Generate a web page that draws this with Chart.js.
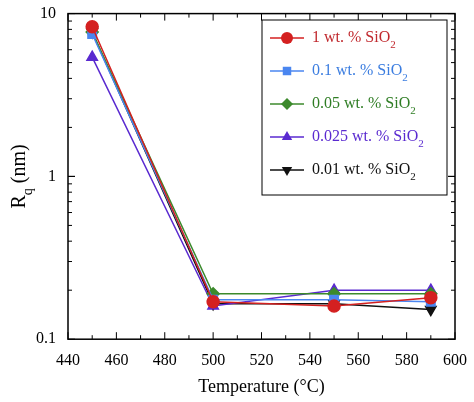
<!DOCTYPE html>
<html>
<head>
<script src="https://cdn.jsdelivr.net/npm/chart.js@4"></script>
<style>body{margin:0;background:#fff}#wrap{width:474px;height:402px}</style>
</head>
<body>
<div id="wrap"><canvas id="c"></canvas></div>
<script>
// temperatures (°C) and roughness values (nm)
const temps = [450, 500, 550, 590];
const sio2_1 = [8.3, 0.17, 0.16, 0.18];
const sio2_01 = [7.5, 0.175, 0.175, 0.17];
const sio2_005 = [7.7, 0.19, 0.19, 0.19];
const sio2_0025 = [5.4, 0.16, 0.2, 0.2];
const sio2_001 = [7.7, 0.165, 0.165, 0.152];
const xTicks = [440, 460, 480, 500, 520, 540, 560, 580, 600];
const yTicks = [0.1, 1, 10];

const series = [
  {label: '1 wt. % SiO', data: sio2_1, color: '#d42020', text: '#c0282d', point: 'circle'},
  {label: '0.1 wt. % SiO', data: sio2_01, color: '#4a86f0', text: '#3b7de0', point: 'rect'},
  {label: '0.05 wt. % SiO', data: sio2_005, color: '#3c8a2c', text: '#2f7d24', point: 'rectRot'},
  {label: '0.025 wt. % SiO', data: sio2_0025, color: '#5a2ad0', text: '#5a2ad0', point: 'triangle'},
  {label: '0.01 wt. % SiO', data: sio2_001, color: '#111111', text: '#111111', point: 'triangle', rot: 180}
];

const font = 'Liberation Serif, Times New Roman, serif';

// inward ticks on all sides, legend box and y title
const decor = {
  id: 'decor',
  afterDraw(chart) {
    const ctx = chart.ctx, a = chart.chartArea;
    const xs = chart.scales.x, ys = chart.scales.y;
    ctx.save();
    ctx.strokeStyle = '#000';
    ctx.lineWidth = 1.5;
    ctx.strokeRect(a.left, a.top, a.right - a.left, a.bottom - a.top);
    ctx.lineWidth = 1;
    ctx.beginPath();
    for (let v = 440; v <= 600; v += 10) {
      const p = xs.getPixelForValue(v), len = v % 20 === 0 ? 7 : 4;
      ctx.moveTo(p, a.bottom); ctx.lineTo(p, a.bottom - len);
      ctx.moveTo(p, a.top); ctx.lineTo(p, a.top + len);
    }
    for (let d = 0.1; d < 10; d *= 10) {
      for (let m = 1; m <= 10; m++) {
        const p = ys.getPixelForValue(d * m), len = (m === 1 || m === 10) ? 7 : 4;
        ctx.moveTo(a.left, p); ctx.lineTo(a.left + len, p);
        ctx.moveTo(a.right, p); ctx.lineTo(a.right - len, p);
      }
    }
    ctx.stroke();

    // legend
    const lx = 262, ly = 20, lw = 185, lh = 175, step = 33;
    ctx.fillStyle = '#fff';
    ctx.fillRect(lx, ly, lw, lh);
    ctx.strokeRect(lx, ly, lw, lh);
    series.forEach((s, i) => {
      const y = ly + 18 + i * step;
      ctx.strokeStyle = s.color; ctx.lineWidth = 1.5;
      ctx.beginPath(); ctx.moveTo(lx + 8, y); ctx.lineTo(lx + 42, y); ctx.stroke();
      ctx.fillStyle = s.color;
      Chart.helpers.drawPoint(ctx, {pointStyle: s.point, radius: 6, rotation: s.rot || 0}, lx + 25, y);
      ctx.fillStyle = s.text;
      ctx.font = '16px ' + font;
      ctx.textBaseline = 'middle';
      ctx.fillText(s.label, lx + 50, y);
      const w = ctx.measureText(s.label).width;
      ctx.font = '11px ' + font;
      ctx.fillText('2', lx + 50 + w, y + 7);
    });

    // y title with subscript
    ctx.fillStyle = '#000';
    ctx.translate(20, (a.top + a.bottom) / 2);
    ctx.rotate(-Math.PI / 2);
    ctx.textBaseline = 'middle';
    const t1 = 'R', t2 = 'q', t3 = ' (nm)';
    ctx.font = '20px ' + font; const w1 = ctx.measureText(t1).width;
    ctx.font = '14px ' + font; const w2 = ctx.measureText(t2).width;
    ctx.font = '20px ' + font; const w3 = ctx.measureText(t3).width;
    let x0 = -(w1 + w2 + w3) / 2;
    ctx.fillText(t1, x0, 0);
    ctx.font = '14px ' + font; ctx.fillText(t2, x0 + w1, 8);
    ctx.font = '20px ' + font; ctx.fillText(t3, x0 + w1 + w2, 0);
    ctx.restore();
  }
};

new Chart(document.getElementById('c'), {
  type: 'line',
  data: {
    datasets: series.map(s => ({
      label: s.label + '2',
      data: temps.map((t, i) => ({x: t, y: s.data[i]})),
      borderColor: s.color,
      backgroundColor: s.color,
      pointStyle: s.point,
      rotation: s.rot || 0,
      pointRadius: 6,
      borderWidth: 1.5,
      tension: 0
    }))
  },
  options: {
    responsive: true,
    maintainAspectRatio: false,
    animation: false,
    layout: {padding: {top: 12, right: 19, left: 0, bottom: 0}},
    plugins: {legend: {display: false}, tooltip: {enabled: false}},
    scales: {
      x: {
        type: 'linear', min: 440, max: 600,
        afterBuildTicks: s => { s.ticks = xTicks.map(v => ({value: v})); },
        grid: {display: false},
        border: {display: false},
        ticks: {color: '#000', font: {family: font, size: 16}, padding: 4, maxRotation: 0},
        title: {display: true, text: 'Temperature (°C)', color: '#000', font: {family: font, size: 18}, padding: {top: 2, bottom: 4}}
      },
      y: {
        type: 'logarithmic', min: 0.1, max: 10,
        afterBuildTicks: s => { s.ticks = yTicks.map(v => ({value: v})); },
        afterFit: s => { s.width = 68; },
        grid: {display: false},
        border: {display: false},
        ticks: {color: '#000', font: {family: font, size: 16}, padding: 4, callback: v => String(v)}
      }
    }
  },
  plugins: [decor]
});
</script>
</body>
</html>
